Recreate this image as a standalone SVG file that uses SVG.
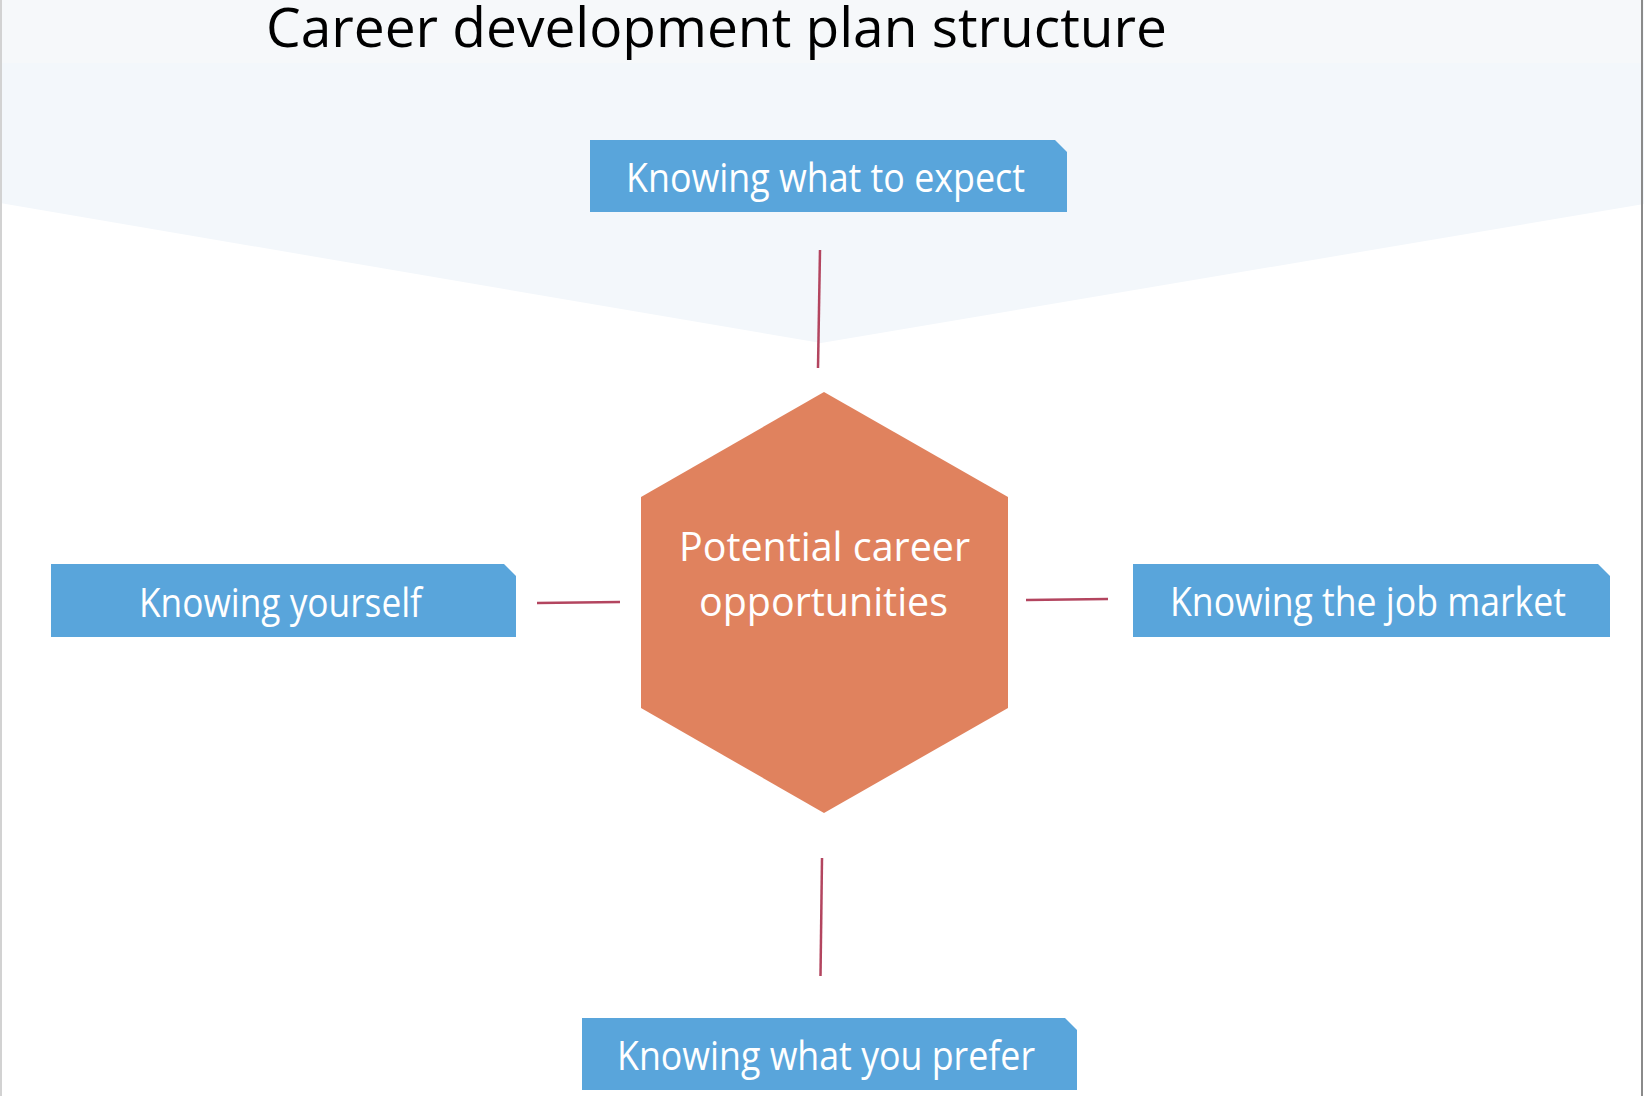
<svg xmlns="http://www.w3.org/2000/svg" width="1644" height="1096" viewBox="0 0 1644 1096">
  <style>
    .box { fill: #59A5DB; }
    .lbl { font-family: "Open Sans", "Noto Sans", "Liberation Sans", sans-serif; font-size: 40px; fill: #FFFFFF; }
    .title { font-family: "Open Sans", "Noto Sans", "Liberation Sans", sans-serif; font-size: 55px; fill: #000000; }
    .conn { stroke: #B3455F; stroke-width: 2.5; fill: none; stroke-linecap: butt; }
  </style>
  <rect x="0" y="0" width="1644" height="1096" fill="#FFFFFF"/>
  <g id="background">
    <polygon points="0,0 1644,0 1644,204 821,343 0,203" fill="#F3F7FB"/>
    <rect x="0" y="0" width="1644" height="63" fill="#F6F8FA"/>
    <line x1="1" y1="0" x2="1" y2="1096" stroke="#D2D2D2" stroke-width="2"/>
    <line x1="1642" y1="0" x2="1642" y2="1096" stroke="#8A8A8A" stroke-width="2"/>
  </g>
  <g id="title">
    <text class="title" x="266" y="47" textLength="901" lengthAdjust="spacingAndGlyphs">Career development plan structure</text>
  </g>
  <g id="connectors">
    <line class="conn" x1="820" y1="250" x2="818" y2="368"/>
    <line class="conn" x1="537" y1="603" x2="620" y2="602"/>
    <line class="conn" x1="1026" y1="600" x2="1108" y2="599"/>
    <line class="conn" x1="822" y1="858" x2="820.5" y2="976"/>
  </g>
  <g id="node-center">
    <polygon points="824,392 1008,497 1008,708 824,813 641,708 641,497" fill="#E0825E"/>
    <text class="lbl" x="679" y="561" textLength="291" lengthAdjust="spacingAndGlyphs">Potential career</text>
    <text class="lbl" x="699" y="616" textLength="249" lengthAdjust="spacingAndGlyphs">opportunities</text>
  </g>
  <g id="node-top">
    <polygon class="box" points="590,140 1055,140 1067,152 1067,212 590,212"/>
    <text class="lbl" x="626" y="192" textLength="399" lengthAdjust="spacingAndGlyphs">Knowing what to expect</text>
  </g>
  <g id="node-left">
    <polygon class="box" points="51,564 504,564 516,576 516,637 51,637"/>
    <text class="lbl" x="139" y="617" textLength="283" lengthAdjust="spacingAndGlyphs">Knowing yourself</text>
  </g>
  <g id="node-right">
    <polygon class="box" points="1133,564 1598,564 1610,576 1610,637 1133,637"/>
    <text class="lbl" x="1170" y="616" textLength="396" lengthAdjust="spacingAndGlyphs">Knowing the job market</text>
  </g>
  <g id="node-bottom">
    <polygon class="box" points="582,1018 1065,1018 1077,1030 1077,1090 582,1090"/>
    <text class="lbl" x="617" y="1070" textLength="418" lengthAdjust="spacingAndGlyphs">Knowing what you prefer</text>
  </g>
</svg>
